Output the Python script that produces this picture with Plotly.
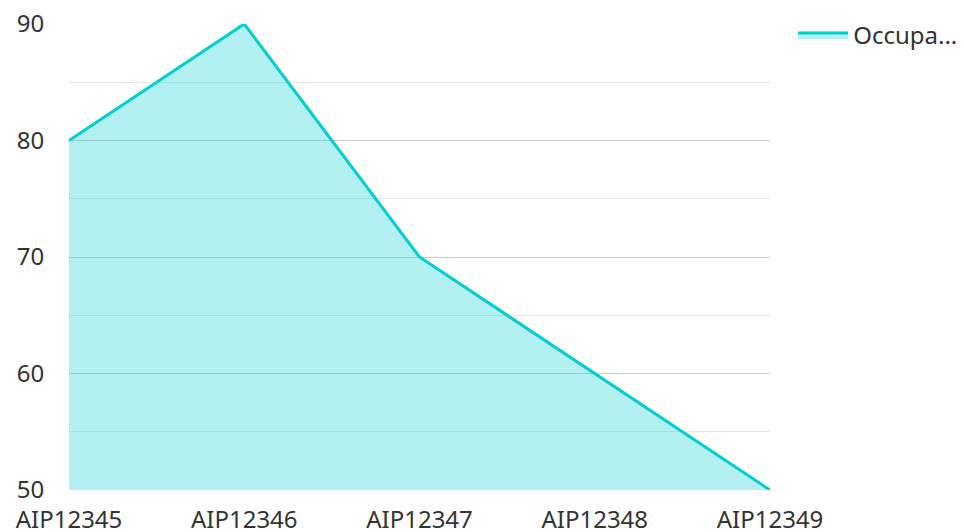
import plotly.graph_objects as go

categories = ["AIP12345", "AIP12346", "AIP12347", "AIP12348", "AIP12349"]
occupancy = [80, 90, 70, 60, 50]
series_name = "Occupa..."
y_ticks = [50, 60, 70, 80, 90]

fig = go.Figure()
fig.add_trace(go.Scatter(
    x=categories, y=occupancy, name=series_name, mode="lines",
    line=dict(color="#00CED1", width=3),
    fill="tozeroy", fillcolor="rgba(0,206,209,0.3)",
))

font_family = "Noto Sans, Open Sans, sans-serif"
# page body has an 8px margin, so the figure is sized to fit the 964x532 window
fig.update_layout(
    width=956, height=524,
    margin=dict(l=61, r=194, t=16, b=42, autoexpand=False),
    paper_bgcolor="white", plot_bgcolor="white",
    font=dict(family=font_family, size=24, color="#333333"),
    showlegend=True,
    legend=dict(x=1.033, y=1.024, xanchor="left", yanchor="top", itemwidth=50,
                font=dict(size=24, color="#333333"), bgcolor="rgba(0,0,0,0)"),
    xaxis=dict(type="category", range=[0, 4], showgrid=False, zeroline=False,
               showline=False, ticks="outside", ticklen=8, tickcolor="rgba(0,0,0,0)",
               automargin=False, ticklabeloverflow="allow",
               tickfont=dict(size=24, color="#333333")),
    yaxis=dict(range=[50, 90], tickvals=y_ticks, showgrid=True, gridcolor="#cccccc",
               gridwidth=1, zeroline=False, showline=False, automargin=False,
               ticklabeloverflow="allow",
               ticks="outside", ticklen=19, tickcolor="rgba(0,0,0,0)",
               minor=dict(dtick=5, showgrid=True, gridcolor="#e6e6e6", gridwidth=1),
               tickfont=dict(size=24, color="#333333")),
)
fig.write_html("out.html")
